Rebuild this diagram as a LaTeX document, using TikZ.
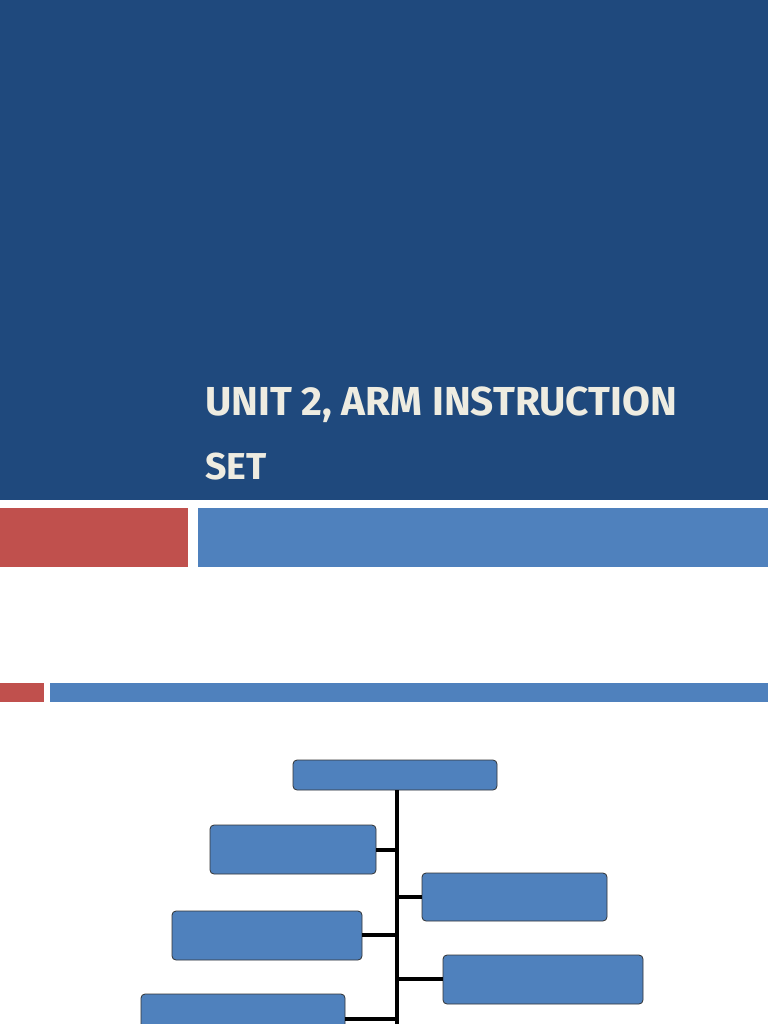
\documentclass[tikz,border=0pt]{standalone}
\usepackage{fontspec}
\setmainfont{Fira Sans}
\definecolor{dblue}{HTML}{1F497D}
\definecolor{mblue}{HTML}{4F81BD}
\definecolor{mred}{HTML}{C0504D}
\definecolor{cream}{HTML}{EEECE1}
\begin{document}
\begin{tikzpicture}[x=0.75pt,y=-0.75pt,
  box/.style={draw=black!80,fill=mblue,rounded corners=3pt,line width=0.6pt},
  conn/.style={line width=3pt,black}]
\useasboundingbox (0,0) rectangle (768,1024);
\clip (0,0) rectangle (768,1024);
\fill[dblue] (0,0) rectangle (768,500);
\fill[mred] (0,508) rectangle (188,567);
\fill[mblue] (198,508) rectangle (768,567);
\fill[mred] (0,683) rectangle (44,702);
\fill[mblue] (50,683) rectangle (768,702);
\node[anchor=south west,inner sep=0,text=cream,font=\fontsize{36}{36}\bfseries] (t1) at (205,423) {\resizebox{354pt}{!}{UNIT 2, ARM INSTRUCTION}};
\node[anchor=south west,inner sep=0,text=cream,font=\fontsize{36}{36}\bfseries] (t2) at (205,480) {\resizebox{46pt}{!}{SET}};
\draw[box] (293,760) rectangle (497,790) coordinate (topbr);
\coordinate (top) at (397,790);
\coordinate (bot) at (397,1030);
\draw[conn] (top) -- (bot);
\draw[box] (210,825) rectangle (376,874);
\draw[box] (422,873) rectangle (607,921);
\draw[box] (172,911) rectangle (362,960);
\draw[box] (443,955) rectangle (643,1004);
\draw[box] (141,994) rectangle (345,1040);
\coordinate (j1) at (397,850); \coordinate (b1) at (376,850);
\coordinate (j2) at (397,897); \coordinate (b2) at (422,897);
\coordinate (j3) at (397,935); \coordinate (b3) at (362,935);
\coordinate (j4) at (397,979); \coordinate (b4) at (443,979);
\coordinate (j5) at (397,1019); \coordinate (b5) at (345,1019);
\draw[conn] (b1) -- (j1); \draw[conn] (j2) -- (b2);
\draw[conn] (b3) -- (j3); \draw[conn] (j4) -- (b4);
\draw[conn] (b5) -- (j5);
\end{tikzpicture}
\end{document}
